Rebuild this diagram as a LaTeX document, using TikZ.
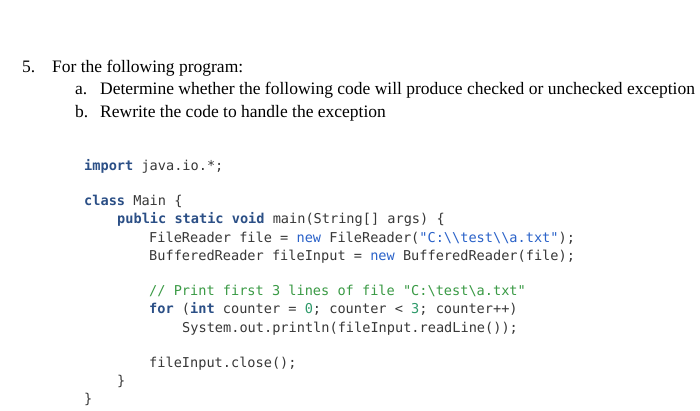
\documentclass[tikz,border=0pt]{standalone}
\usepackage{fontspec}
\setmainfont{Liberation Serif}
\setmonofont{DejaVu Sans Mono}
\definecolor{kw}{HTML}{2B4F86}
\definecolor{nw}{HTML}{2A62C9}
\definecolor{str}{HTML}{2A62C9}
\definecolor{cm}{HTML}{3A9A45}
\definecolor{num}{HTML}{2E9A6A}
\definecolor{code}{HTML}{383838}
\newcommand{\K}[1]{\textcolor{kw}{\bfseries #1}}
\newcommand{\N}[1]{\textcolor{nw}{#1}}
\newcommand{\B}{\textbackslash}
\tikzset{
  hd/.style={anchor=base west,inner sep=0pt,font=\fontsize{17.5}{20}\selectfont,text=black},
  cd/.style={anchor=base west,inner sep=0pt,font=\ttfamily\fontsize{13.6}{16}\selectfont,text=code}
}
\begin{document}
\begin{tikzpicture}[x=1pt,y=-1pt]
\useasboundingbox[fill=white] (0,0) rectangle (700,410);
\node[hd] (n5) at (22,72) {5.};
\node[hd] (h) at (52,72) {For the following program:};
\node[hd] (a) at (75,94) {a.};
\node[hd] (at) at (100,94) {Determine whether the following code will produce checked or unchecked exception};
\node[hd] (b) at (75,117) {b.};
\node[hd] (bt) at (100,117) {Rewrite the code to handle the exception};
\node[cd] (l1) at (84,170) {\K{import} java.io.*;};
\node[cd] (l2) at (84,205) {\K{class} Main \{};
\node[cd] (l3) at (117,223) {\K{public} \K{static} \K{void} main(String[] args) \{};
\node[cd] (l4) at (149,242) {FileReader file = \N{new} FileReader(\textcolor{str}{"C:\B\B test\B\B a.txt"});};
\node[cd] (l5) at (149,260) {BufferedReader fileInput = \N{new} BufferedReader(file);};
\node[cd] (l6) at (149,295) {\textcolor{cm}{// Print first 3 lines of file "C:\B test\B a.txt"}};
\node[cd] (l7) at (149,313) {\K{for} (\K{int} counter = \textcolor{num}{0}; counter < \textcolor{num}{3}; counter++)};
\node[cd] (l8) at (182,332) {System.out.println(fileInput.readLine());};
\node[cd] (l9) at (149,367) {fileInput.close();};
\node[cd] (l10) at (117,385) {\}};
\node[cd] (l11) at (84,403) {\}};
\end{tikzpicture}
\end{document}
